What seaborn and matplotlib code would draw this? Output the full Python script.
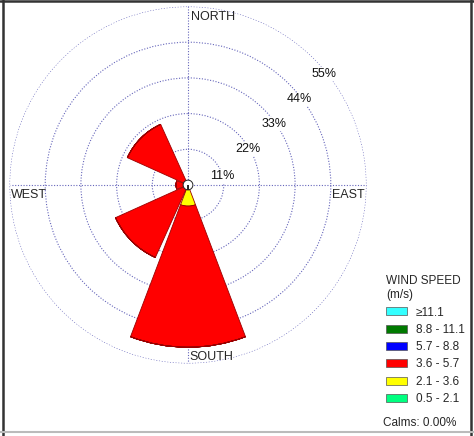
import numpy as np
import matplotlib
matplotlib.use("Agg")
import matplotlib.pyplot as plt
import seaborn as sns
from matplotlib.patches import Patch
from matplotlib.lines import Line2D

sns.set_theme(style="white")
plt.rcParams['font.family'] = ['Liberation Sans', 'DejaVu Sans']

# --- data (percent frequency per direction and speed class) ---
directions = ['N', 'NE', 'E', 'SE', 'S', 'SW', 'W', 'NW']
dir_angles = [0, 45, 90, 135, 180, 225, 270, 315]
speed_classes = ['0.5 - 2.1', '2.1 - 3.6', '3.6 - 5.7', '5.7 - 8.8', '8.8 - 11.1', '\u226511.1']
freq_05_21 = [0, 0, 0, 0, 0, 0, 0, 0]
freq_21_36 = [0, 0, 0, 0, 6.5, 0, 0, 0]
freq_36_57 = [0, 0, 0, 0, 43.5, 24.5, 3.7, 20.5]
freq_57_88 = [0, 0, 0, 0, 0, 0, 0, 0]
freq_88_111 = [0, 0, 0, 0, 0, 0, 0, 0]
freq_111 = [0, 0, 0, 0, 0, 0, 0, 0]
class_colors = ['#00FF80', '#FFFF00', '#FF0000', '#0000FF', '#007A00', '#33FFFF']
ring_values = [11, 22, 33, 44, 55]
ring_labels = ['11%', '22%', '33%', '44%', '55%']
calms = 0.00

fig = plt.figure(figsize=(4.74, 4.36), dpi=100)
ax = fig.add_axes([0.02004, 0.1663, 0.7532, 0.8188], projection='polar')
ax.set_theta_zero_location('N')
ax.set_theta_direction(-1)

theta = np.deg2rad(dir_angles)
width = np.deg2rad(41.5)
bottom = np.zeros(len(directions))
for freqs, col in zip([freq_05_21, freq_21_36, freq_36_57, freq_57_88, freq_88_111, freq_111],
                      class_colors):
    vals = np.array(freqs, dtype=float)
    ax.bar(theta, vals, width=width, bottom=bottom, color=col,
           edgecolor='#9A0000', linewidth=0.6, zorder=3)
    bottom += vals

# calm circle in the middle
ax.bar(0, 1.5, width=2 * np.pi, bottom=0, color='white', edgecolor='#222222',
       linewidth=0.7, zorder=4)

ax.set_ylim(0, 55)
ax.set_yticks(ring_values)
ax.set_yticklabels([])
ax.set_xticks(np.deg2rad([0, 90, 180, 270]))
ax.set_xticklabels([])
ax.grid(True, color='#6666BB', linestyle=(0, (1, 1.5)), linewidth=0.8)
ax.spines['polar'].set_visible(False)
ax.set_facecolor('white')

# ring labels (white box hides the dotted ring behind them)
label_angles = [75, 59, 54.6, 52.5, 50.8]
for ang, r, txt in zip(label_angles, ring_values, ring_labels):
    ax.text(np.deg2rad(ang), r * 0.985, txt, ha='center', va='center',
            fontsize=9, color='#111111', zorder=5,
            bbox=dict(facecolor='white', edgecolor='none', pad=0.5))

# compass labels
ax.annotate('NORTH', xy=(0, 55), xytext=(2, -3), textcoords='offset points',
            ha='left', va='top', fontsize=9)
ax.annotate('EAST', xy=(np.pi / 2, 55), xytext=(-1, -3), textcoords='offset points',
            ha='right', va='top', fontsize=9)
ax.annotate('WEST', xy=(3 * np.pi / 2, 55), xytext=(1, -3), textcoords='offset points',
            ha='left', va='top', fontsize=9)
ax.annotate('SOUTH', xy=(np.pi, 55), xytext=(1, 0), textcoords='offset points',
            ha='left', va='bottom', fontsize=9)

# legend
handles = [Patch(facecolor=c, edgecolor='#555555', linewidth=0.5)
           for c in class_colors[::-1]]
leg = fig.legend(handles, speed_classes[::-1], title='WIND SPEED\n(m/s)',
                 loc='upper left', bbox_to_anchor=(377 / 474, 1 - 266 / 436),
                 frameon=False, fontsize=8.5, title_fontsize=8.5,
                 handlelength=1.7, handleheight=0.65, handletextpad=0.8,
                 labelspacing=0.45, borderpad=0.3)
leg._legend_box.align = 'left'
fig.text(383 / 474, 1 - 423 / 436, f'Calms: {calms:.2f}%', fontsize=8.5,
         ha='left', va='center')

# outer frame
fig.add_artist(Line2D([3 / 474, 3 / 474], [0, 1], color='#333333', lw=1.8))
fig.add_artist(Line2D([0, 1], [1 - 1 / 436, 1 - 1 / 436], color='#333333', lw=1.8))
fig.add_artist(Line2D([471 / 474, 471 / 474], [0, 1], color='#333333', lw=1.8))
fig.add_artist(Line2D([0, 1], [1 - 432 / 436, 1 - 432 / 436], color='#BBBBBB', lw=1.5))

fig.savefig('out.png', dpi=100)
